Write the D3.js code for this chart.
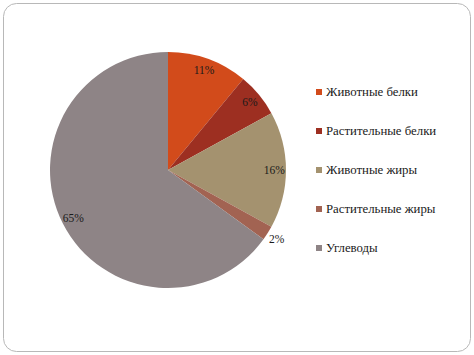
<!DOCTYPE html>
<html>
<head>
<meta charset="utf-8">
<script src="https://cdn.jsdelivr.net/npm/d3@7"></script>
<style>
  body { margin: 0; background: #fff; }
  svg { display: block; }
</style>
</head>
<body>
<div id="chart"></div>
<script>
const categories = ["Животные белки", "Растительные белки", "Животные жиры", "Растительные жиры", "Углеводы"];
const values = [11, 6, 16, 2, 65];
const colors = ["#d24b1b", "#9d2f21", "#a4926f", "#a26352", "#8e8486"];

const W = 474, H = 355;
const FONT = "'Liberation Serif', 'DejaVu Serif', serif";

const svg = d3.select("#chart").append("svg")
    .attr("width", W)
    .attr("height", H);

// slide frame
svg.append("rect")
    .attr("x", 3.5).attr("y", 3.5)
    .attr("width", W - 7).attr("height", H - 7)
    .attr("rx", 13).attr("ry", 13)
    .attr("fill", "#fff")
    .attr("stroke", "#b8b8b8")
    .attr("stroke-width", 1);

const cx = 168, cy = 170, R = 118;

const pie = d3.pie().sort(null).value(d => d.value);
const arcs = pie(categories.map((c, i) => ({ name: c, value: values[i], color: colors[i] })));

const arc = d3.arc().innerRadius(0).outerRadius(R);
const labelArc = d3.arc().innerRadius(R * 0.9).outerRadius(R * 0.9);
const outerLabelArc = d3.arc().innerRadius(R * 1.09).outerRadius(R * 1.09);

const g = svg.append("g").attr("transform", `translate(${cx},${cy})`);

g.selectAll("path.slice")
    .data(arcs)
    .enter().append("path")
    .attr("class", "slice")
    .attr("d", arc)
    .attr("fill", d => d.data.color);

g.selectAll("text.pct")
    .data(arcs)
    .enter().append("text")
    .attr("class", "pct")
    .attr("transform", d => {
        const p = (d.data.value < 5 ? outerLabelArc : labelArc).centroid(d);
        return `translate(${p[0]},${p[1]})`;
    })
    .attr("text-anchor", "middle")
    .attr("dy", "0.35em")
    .style("font-family", FONT)
    .style("font-size", "11.5px")
    .style("fill", "#1a1a1a")
    .text(d => d.data.value + "%");

// legend
const legend = svg.append("g").attr("transform", "translate(316,92)");
const item = legend.selectAll("g.item")
    .data(categories)
    .enter().append("g")
    .attr("class", "item")
    .attr("transform", (d, i) => `translate(0,${i * 39})`);

item.append("rect")
    .attr("x", 0).attr("y", -3)
    .attr("width", 6).attr("height", 6)
    .attr("fill", (d, i) => colors[i]);

item.append("text")
    .attr("x", 10)
    .attr("dy", "0.35em")
    .style("font-family", FONT)
    .style("font-size", "12.8px")
    .style("fill", "#1a1a1a")
    .text(d => d);
</script>
</body>
</html>
